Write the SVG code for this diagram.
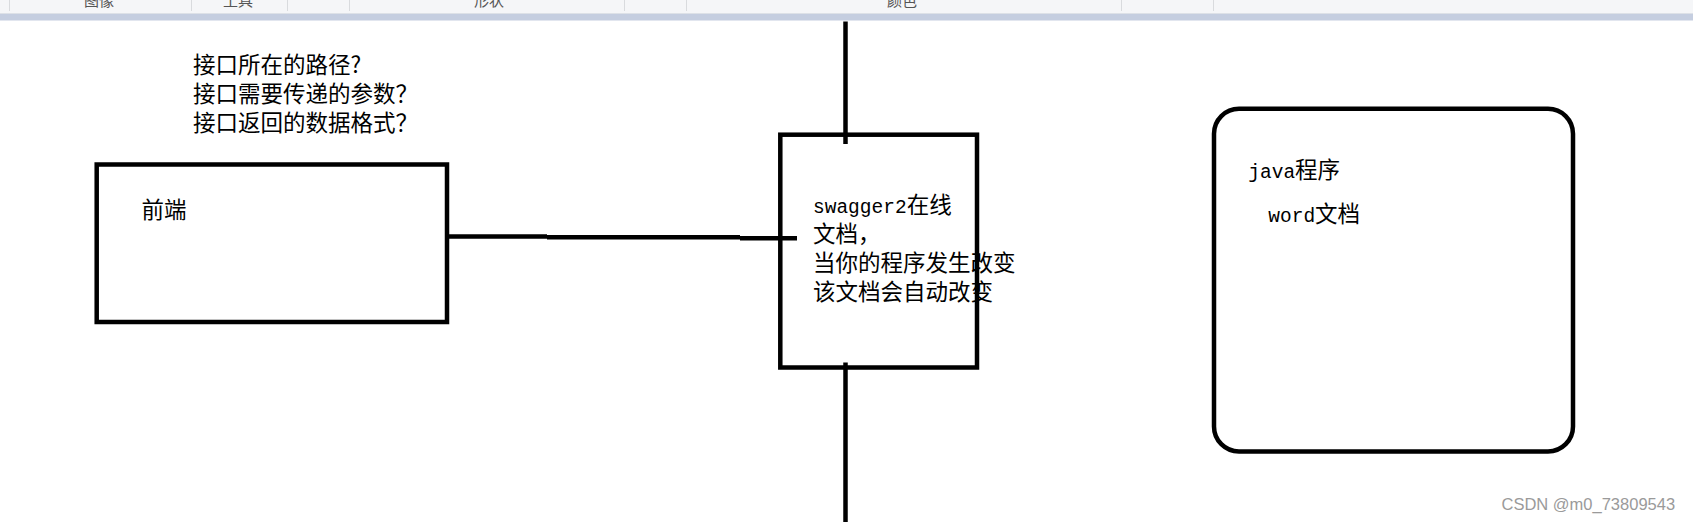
<svg xmlns="http://www.w3.org/2000/svg" width="1693" height="522" viewBox="0 0 1693 522">
  <defs>
    <style>
      .box { fill: none; stroke: #000; stroke-width: 4.5; }
      .ln { stroke: #000; stroke-width: 4.5; fill: none; }
      .t { font-family: "Noto Sans CJK SC", "Noto Sans", sans-serif; font-size: 22.5px; fill: #000; }
      .m { font-family: "Liberation Mono", "DejaVu Sans Mono", monospace; font-size: 19.5px; }
      .tab { font-family: "Noto Sans CJK SC", sans-serif; font-size: 15px; fill: #555; text-anchor: middle; }
      .sep { stroke: #d9dbde; stroke-width: 1; }
    </style>
  </defs>
  <rect x="0" y="0" width="1693" height="522" fill="#ffffff"/>

  <g id="toolbar">
    <rect x="0" y="0" width="1693" height="13.5" fill="#f5f6f8"/>
    <rect x="0" y="13" width="1693" height="1" fill="#dde1e7"/>
    <rect x="0" y="14" width="1693" height="6.5" fill="#c5cee0"/>
    <line class="sep" x1="9.5" y1="0" x2="9.5" y2="11"/>
    <line class="sep" x1="191.5" y1="0" x2="191.5" y2="11"/>
    <line class="sep" x1="287.5" y1="0" x2="287.5" y2="11"/>
    <line class="sep" x1="349.5" y1="0" x2="349.5" y2="11"/>
    <line class="sep" x1="624.5" y1="0" x2="624.5" y2="11"/>
    <line class="sep" x1="686.5" y1="0" x2="686.5" y2="11"/>
    <line class="sep" x1="1121.5" y1="0" x2="1121.5" y2="11"/>
    <line class="sep" x1="1213.5" y1="0" x2="1213.5" y2="11"/>
    <text class="tab" x="99" y="6">图像</text>
    <text class="tab" x="238" y="6">工具</text>
    <text class="tab" x="489" y="6">形状</text>
    <text class="tab" x="902" y="6">颜色</text>
  </g>

  <g id="questions">
    <text class="t" x="193" y="73">接口所在的路径?</text>
    <text class="t" x="193" y="102">接口需要传递的参数？</text>
    <text class="t" x="193" y="131">接口返回的数据格式？</text>
  </g>

  <g id="connectors">
    <line class="ln" x1="845.5" y1="21.5" x2="845.5" y2="144"/>
    <line class="ln" x1="845.5" y1="362.5" x2="845.5" y2="522"/>
    <line class="ln" x1="448" y1="236.4" x2="547" y2="236.4"/>
    <line class="ln" x1="547" y1="237.2" x2="740" y2="237.2"/>
    <line class="ln" x1="740" y1="238.2" x2="797" y2="238.2"/>
  </g>

  <g id="frontend">
    <rect class="box" x="96.7" y="164.5" width="350.3" height="157.5"/>
    <text class="t" x="141.5" y="218">前端</text>
  </g>

  <g id="swagger">
    <text class="t" x="813" y="213"><tspan class="m">swagger2</tspan>在线</text>
    <text class="t" x="813" y="242">文档，</text>
    <text class="t" x="813" y="271">当你的程序发生改变</text>
    <text class="t" x="813" y="300">该文档会自动改变</text>
    <rect class="box" x="780.3" y="134.7" width="196.7" height="232.8"/>
  </g>

  <g id="java">
    <rect class="box" x="1214" y="108.8" width="359" height="342.7" rx="25" ry="25"/>
    <text class="t" x="1248.3" y="178"><tspan class="m">java</tspan>程序</text>
    <text class="t" x="1268.3" y="221.5"><tspan class="m">word</tspan>文档</text>
  </g>

  <g id="watermark">
    <text x="1501.5" y="510" font-family="Liberation Sans, Arial, sans-serif" font-size="16.5" fill="#9a9a9a">CSDN @m0_73809543</text>
  </g>
</svg>
